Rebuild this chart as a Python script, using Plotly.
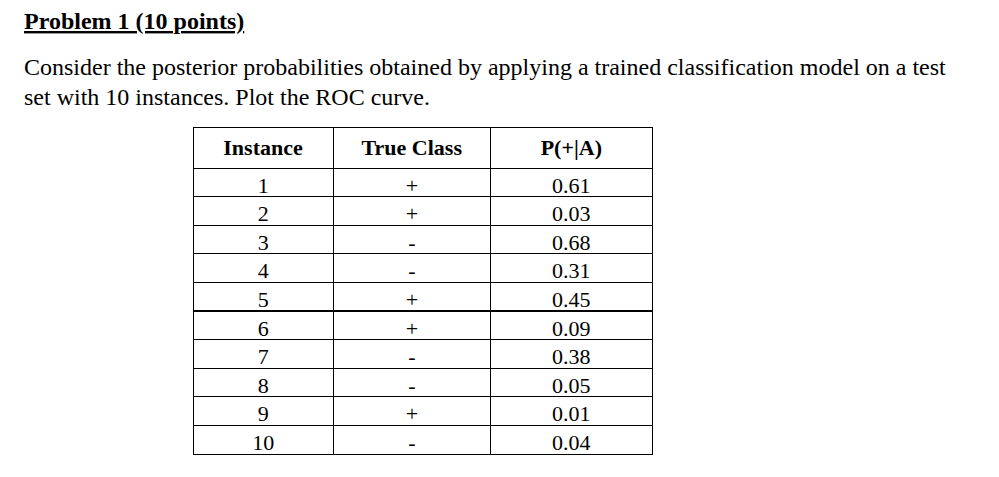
import plotly.graph_objects as go

instances = [str(i) for i in range(1, 11)]
true_class = ["+", "+", "-", "-", "+", "+", "-", "-", "+", "-"]
probs = ["0.61", "0.03", "0.68", "0.31", "0.45", "0.09", "0.38", "0.05", "0.01", "0.04"]
headers = ["<b>Instance</b>", "<b>True Class</b>", "<b>P(+|A)</b>"]

serif = "Liberation Serif"
dx, dy = 8, 9  # page offset seen in the render

fig = go.Figure(go.Table(
    domain=dict(x=[(193 - dx) / 999, (652 - dx) / 999], y=[0, 1 - (128 - dy) / 477]),
    columnwidth=[140, 157, 161],
    header=dict(values=headers, height=29, align="center",
                fill_color="white", line_color="black", line_width=1,
                font=dict(family=serif, size=22, color="black")),
    cells=dict(values=[instances, true_class, probs], height=28.6, align="center",
               fill_color="white", line_color="black", line_width=1,
               font=dict(family=serif, size=22, color="black")),
))

fig.add_annotation(x=(22 - dx) / 999, y=1 - (22 - dy) / 477, xref="paper", yref="paper",
                   xanchor="left", yanchor="middle", showarrow=False,
                   text="<b><u>Problem 1 (10 points)</u></b>",
                   font=dict(family=serif, size=24, color="black"))
fig.add_annotation(x=(22 - dx) / 999, y=1 - (68 - dy) / 477, xref="paper", yref="paper",
                   xanchor="left", yanchor="middle", showarrow=False,
                   text="Consider the posterior probabilities obtained by applying a trained classification model on a test",
                   font=dict(family=serif, size=24, color="black"))
fig.add_annotation(x=(22 - dx) / 999, y=1 - (98 - dy) / 477, xref="paper", yref="paper",
                   xanchor="left", yanchor="middle", showarrow=False,
                   text="set with 10 instances. Plot the ROC curve.",
                   font=dict(family=serif, size=24, color="black"))

fig.update_layout(width=999, height=477, margin=dict(l=0, r=0, t=0, b=0),
                  paper_bgcolor="white", plot_bgcolor="white")
fig.write_html("out.html")
